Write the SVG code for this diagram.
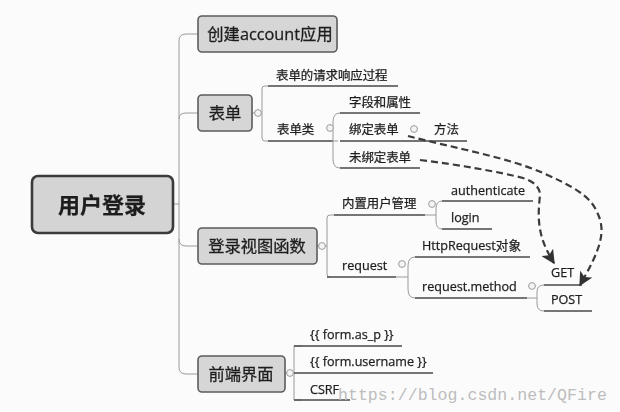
<svg xmlns="http://www.w3.org/2000/svg" width="620" height="412" viewBox="0 0 620 412">
<defs>
<filter id="soft" x="-5%" y="-5%" width="110%" height="110%"><feGaussianBlur stdDeviation="0.45"/></filter>
<marker id="arrow" viewBox="0 0 10 10" refX="9" refY="5" markerWidth="14" markerHeight="14" markerUnits="userSpaceOnUse" orient="auto"><path d="M0 0L10 5L0 10L2.5 5Z" fill="#333"/></marker>
</defs>
<style>
text{font-family:"Open Sans","Noto Sans CJK SC","Noto Sans",sans-serif;fill:#1f1f1f;font-size:12.6px;stroke:#1f1f1f;stroke-width:0.25}
.cn{font-family:"Noto Sans CJK SC",sans-serif;font-size:12.4px}
.box{fill:#d6d6d6;stroke:#5c5c5c;stroke-width:1.6}
.t{font-size:16.3px;text-anchor:middle;font-family:"Open Sans","Noto Sans CJK SC",sans-serif;stroke-width:0.3}
.ul{stroke:#4a4a4a;stroke-width:1.7;fill:none}
.br{stroke:#9a9a9a;stroke-width:1;fill:none}
.c{fill:#f4f4f4;stroke:#9a9a9a;stroke-width:1}
.dash{stroke:#3a3a3a;stroke-width:2.2;fill:none;stroke-dasharray:7 4;marker-end:url(#arrow)}
</style>
<rect width="620" height="412" fill="#fbfbfb"/>
<g filter="url(#soft)">
<g id="connectors">
<path class="br" d="M198 34H186Q179 34 179 41V367Q179 374 186 374H198M179 119Q179 113 186 113H198M173 204H179M179 239Q179 246 186 246H198"/>
<path class="br" d="M252 113H262M268 86H265Q262 86 262 89V138Q262 141 265 141H268"/>
<path class="ul" d="M268 86H398M268 141H333"/>
<path class="br" d="M333 141H338M340 113Q333 113 333 122V159Q333 168 340 168"/>
<path class="ul" d="M340 113H420M340 168H420M340 141H467"/>
<path class="br" d="M317 246H327M334 215H330Q327 215 327 218V274Q327 277 330 277"/>
<path class="ul" d="M334 215H425M327 277H396"/>
<path class="br" d="M425 215H436M442 201Q436 201 436 209V221Q436 229 442 229"/>
<path class="ul" d="M442 201H533M442 229H492"/>
<path class="br" d="M396 277H408M415 257Q408 257 408 266V289Q408 298 415 298"/>
<path class="ul" d="M415 257H530M415 298H527"/>
<path class="br" d="M527 298H537M544 285Q537 285 537 292V304Q537 311 544 311"/>
<path class="ul" d="M544 285H582M544 311H592"/>
<path class="br" d="M285 373H294M302 346H294V400H302"/>
<path class="ul" d="M294 346H402M294 373H433M294 400H350"/>
<circle class="c" cx="258" cy="113" r="3.4"/><circle class="c" cx="330" cy="128" r="3.4"/><circle class="c" cx="414" cy="129" r="3.4"/><circle class="c" cx="432" cy="204" r="3.4"/><circle class="c" cx="402" cy="264" r="3.4"/><circle class="c" cx="322" cy="246" r="3.4"/><circle class="c" cx="290" cy="373" r="3.4"/><circle class="c" cx="532" cy="286" r="3.4"/>
<path class="dash" d="M408 136C450 147 510 158 543 173C570 185 590 195 597 212C607 232 600 250 580 285"/>
<path class="dash" d="M420 160C460 165 500 172 523 178C535 182 540 188 540 195C538 215 536 235 554 263"/>
</g>
<g id="root"><rect x="32" y="176" width="141" height="57" rx="6" fill="#d4d4d4" stroke="#3a3a3a" stroke-width="2.6"/><text x="102" y="213" style="font-size:22px;font-weight:700" text-anchor="middle">用户登录</text></g>
<g id="n-account"><rect class="box" x="198" y="16" width="139" height="36" rx="4"/><text class="t" x="270" y="40">创建account应用</text></g>
<g id="n-form"><rect class="box" x="198" y="95" width="54" height="36" rx="4"/><text class="t" x="225" y="119">表单</text></g>
<g id="n-view"><rect class="box" x="198" y="228" width="119" height="36" rx="4"/><text class="t" x="257" y="252">登录视图函数</text></g>
<g id="n-front"><rect class="box" x="198" y="356" width="87" height="36" rx="4"/><text class="t" x="241" y="380">前端界面</text></g>
<g id="labels">
<text class="cn" x="276" y="80">表单的请求响应过程</text>
<text class="cn" x="277" y="134">表单类</text>
<text class="cn" x="349" y="107">字段和属性</text>
<text class="cn" x="349" y="134">绑定表单</text>
<text class="cn" x="434" y="134">方法</text>
<text class="cn" x="349" y="162">未绑定表单</text>
<text class="cn" x="342" y="208">内置用户管理</text>
<text x="342" y="270">request</text>
<text x="451" y="195">authenticate</text>
<text x="451" y="222">login</text>
<text x="422" y="250">HttpRequest对象</text>
<text x="422" y="291">request.method</text>
<text x="551" y="277">GET</text>
<text x="551" y="304">POST</text>
<text x="310" y="339">{{ form.as_p }}</text>
<text x="310" y="366">{{ form.username }}</text>
<text x="310" y="394">CSRF</text>
</g>
</g>
<text x="338" y="400" style="font-family:'Liberation Mono',monospace;font-size:16.6px;fill:#bdbdbd;stroke:none">https://blog.csdn.net/QFire</text>
</svg>
